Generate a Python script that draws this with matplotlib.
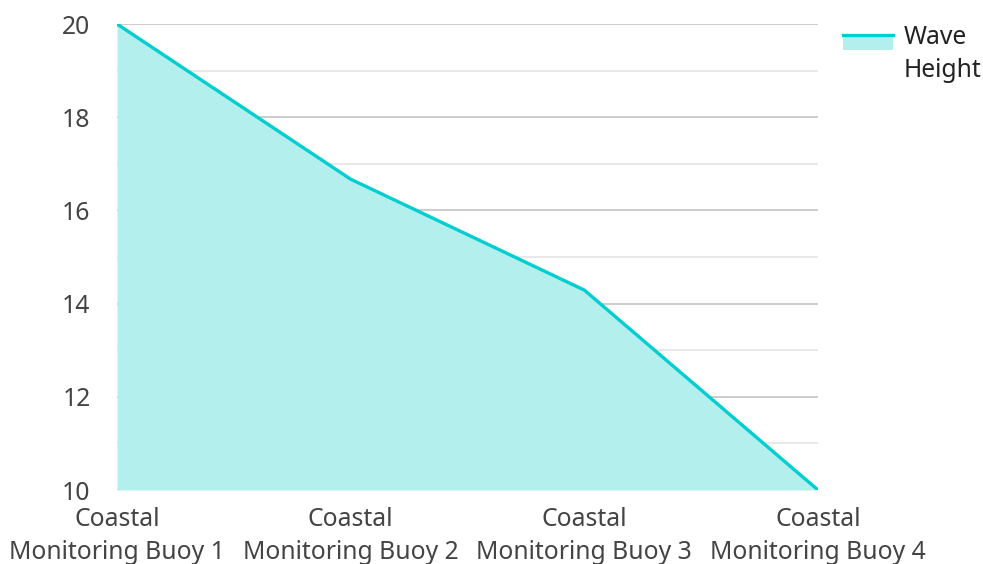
import matplotlib
matplotlib.use("Agg")
import matplotlib.pyplot as plt
from matplotlib.legend_handler import HandlerBase
from matplotlib.patches import Rectangle
from matplotlib.lines import Line2D

plt.rcParams['font.family'] = ['Noto Sans', 'DejaVu Sans']

categories = ["Coastal\nMonitoring Buoy 1", "Coastal\nMonitoring Buoy 2",
              "Coastal\nMonitoring Buoy 3", "Coastal\nMonitoring Buoy 4"]
wave_height = [20.0, 16.67, 14.29, 10.0]
series_name = "Wave\nHeight"

line_color = "#00CED1"
fill_color = "#B2EFED"
font_size = 17.8

fig = plt.figure(figsize=(9.83, 5.64), dpi=100)
ax = fig.add_axes([117 / 983, 1 - 490 / 564, (818 - 117) / 983, (490 - 24) / 564])

x = list(range(len(categories)))
ax.fill_between(x, 10, wave_height, color=fill_color, linewidth=0, zorder=2)
ax.plot(x, wave_height, color=line_color, linewidth=2.4, zorder=3, solid_capstyle='round')

ax.set_xlim(0, len(categories) - 1)
ax.set_ylim(10, 20)
ax.set_yticks([10, 12, 14, 16, 18, 20])
ax.set_yticks([11, 13, 15, 17, 19], minor=True)
ax.set_xticks(x)
ax.set_xticklabels(categories, linespacing=1.42)

ax.grid(axis='y', which='major', color='#c8c8c8', linewidth=1.3, zorder=1)
ax.grid(axis='y', which='minor', color='#e6e6e6', linewidth=1.3, zorder=1)
ax.grid(axis='x', visible=False)
for s in ax.spines.values():
    s.set_visible(False)
ax.tick_params(axis='both', which='both', length=0, labelsize=font_size, labelcolor='#444444')
ax.tick_params(axis='y', pad=19)
ax.tick_params(axis='x', pad=12)
ax.set_axisbelow(True)


class AreaHandler(HandlerBase):
    """Legend key for an area series: filled band with its outline on top,
    raised so it sits beside the first line of a two-line label."""
    lift = 8.6

    def create_artists(self, legend, orig_handle, xdescent, ydescent,
                       width, height, fontsize, trans):
        y0 = -ydescent + self.lift
        rect = Rectangle((-xdescent, y0), width, height,
                         facecolor=fill_color, edgecolor='none', transform=trans)
        top = Line2D([-xdescent, -xdescent + width],
                     [y0 + height, y0 + height],
                     color=line_color, linewidth=2.4, transform=trans)
        return [rect, top]


handle = Rectangle((0, 0), 1, 1)
leg = fig.legend([handle], [series_name], handler_map={Rectangle: AreaHandler()},
                 loc='upper left', bbox_to_anchor=(823 / 983, 1 - 5 / 564),
                 frameon=False, fontsize=font_size, handlelength=2.05, handleheight=0.6,
                 handletextpad=0.42, borderpad=0.3)
for t in leg.get_texts():
    t.set_color('#222222')
    t.set_linespacing(1.42)

fig.savefig("out.png", dpi=100)
